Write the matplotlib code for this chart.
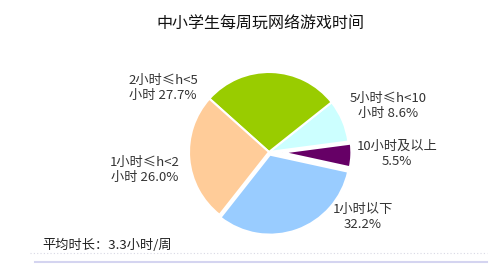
import matplotlib.pyplot as plt

plt.rcParams['font.family'] = ['Noto Sans CJK SC', 'DejaVu Sans']

# 数据（逆时针，从“10小时及以上”开始）
labels = ['10小时及以上\n5.5%', '5小时≤h<10\n小时 8.6%', '2小时≤h<5\n小时 27.7%',
          '1小时≤h<2\n小时 26.0%', '1小时以下\n32.2%']
shares = [5.5, 8.6, 27.7, 26.0, 32.2]
colors = ['#660066', '#ccffff', '#99cc00', '#ffcc99', '#99ccff']
explode = [0.17, 0, 0, 0, 0.035]
title = '中小学生每周玩网络游戏时间'
note = '平均时长：3.3小时/周'

# 标签位置（像素，中心）
label_px = [(397, 154), (388, 106), (163, 88), (145, 170), (363, 217)]

W, H = 500, 269
fig = plt.figure(figsize=(5, 2.69), dpi=100)
fig.patch.set_facecolor('white')

cx, cy, r = 269, 152, 80
ax = fig.add_axes([(cx - r) / W, (H - cy - r) / H, 2 * r / W, 2 * r / H])
wedges, _ = ax.pie(shares, colors=colors, explode=explode, startangle=-12.3,
                   counterclock=True, radius=1,
                   wedgeprops=dict(edgecolor='white', linewidth=1.5))
wedges[0].set_radius(0.86)
for w in wedges:
    w.set_clip_on(False)
ax.set_xlim(-1, 1)
ax.set_ylim(-1, 1)
ax.axis('off')

for lab, (x, y) in zip(labels, label_px):
    fig.text(x / W, 1 - y / H, lab, ha='center', va='center', fontsize=9.5,
             color='#333333', linespacing=1.15)

fig.text(260 / W, 1 - 23 / H, title, ha='center', va='center', fontsize=11.5,
         color='#111111')
fig.text(42 / W, 1 - 245 / H, note, ha='left', va='center', fontsize=9.5,
         color='#222222')

# 底部分隔线
fig.add_artist(plt.Line2D([30 / W, 487 / W], [1 - 253 / H] * 2, color='#d8d8e4',
                          linestyle=(0, (1, 2)), linewidth=0.8))
fig.add_artist(plt.Line2D([35 / W, 487 / W], [1 - 262 / H] * 2, color='#d4d4f0',
                          linewidth=1.5))

fig.savefig('out.png', dpi=100)
